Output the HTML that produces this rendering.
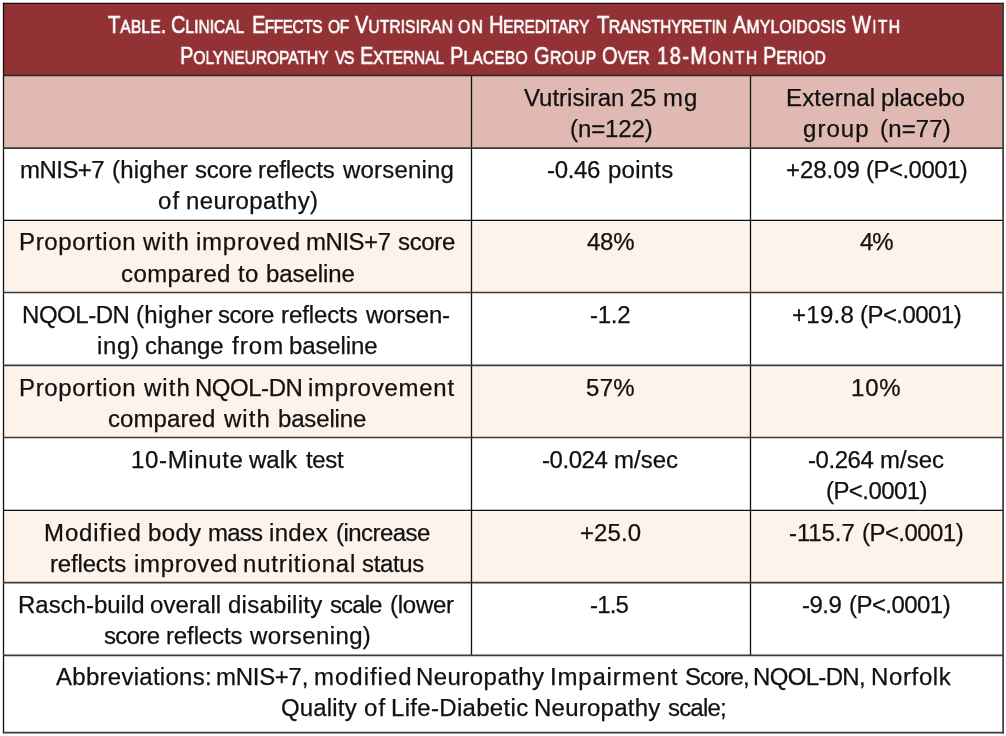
<!DOCTYPE html>
<html><head><meta charset="utf-8"><title>Table</title>
<style>
html,body{margin:0;padding:0;background:#fff;}
body{width:1006px;height:736px;position:relative;overflow:hidden;}
.bg{position:absolute;}
.b,.t{position:absolute;transform-origin:0 0;will-change:transform;}
.b{font-family:'Liberation Sans',sans-serif;font-size:23px;font-weight:normal;line-height:30px;white-space:nowrap;color:#111;-webkit-text-stroke:0.25px #111;}
.t{font-family:'Liberation Sans',sans-serif;font-size:24px;font-weight:normal;line-height:30px;white-space:nowrap;color:#fff;-webkit-text-stroke:0.65px #fff;}
.s{font-size:0.78em;}
svg{position:absolute;left:0;top:0;}
</style></head><body>
<div class="bg" style="left:3px;top:3px;width:1000px;height:73px;background:#923235"></div>
<div class="bg" style="left:3px;top:75px;width:1000px;height:74px;background:#e0bab2"></div>
<div class="bg" style="left:3px;top:220px;width:1000px;height:73px;background:#fdf3eb"></div>
<div class="bg" style="left:3px;top:365px;width:1000px;height:73px;background:#fdf3eb"></div>
<div class="bg" style="left:3px;top:510px;width:1000px;height:73px;background:#fdf3eb"></div>
<div class="t" style="left:107.50px;top:9.70px;letter-spacing:0.162px;transform:scaleX(0.8332)">T<span class="s">ABLE</span>.</div>
<div class="t" style="left:170.77px;top:9.70px;letter-spacing:-0.015px;transform:scaleX(0.8332)">C<span class="s">LINICAL</span></div>
<div class="t" style="left:251.53px;top:9.70px;letter-spacing:-0.691px;transform:scaleX(0.8332)">E<span class="s">FFECTS</span></div>
<div class="t" style="left:327.77px;top:9.70px;letter-spacing:-0.477px;transform:scaleX(0.8332)"><span class="s">OF</span></div>
<div class="t" style="left:355.40px;top:9.70px;letter-spacing:0.091px;transform:scaleX(0.8332)">V<span class="s">UTRISIRAN</span></div>
<div class="t" style="left:457.84px;top:9.70px;letter-spacing:1.800px;transform:scaleX(0.8332)"><span class="s">ON</span></div>
<div class="t" style="left:488.73px;top:9.70px;letter-spacing:-0.238px;transform:scaleX(0.8332)">H<span class="s">EREDITARY</span></div>
<div class="t" style="left:596.70px;top:9.70px;letter-spacing:-0.368px;transform:scaleX(0.8332)">T<span class="s">RANSTHYRETIN</span></div>
<div class="t" style="left:732.60px;top:9.70px;letter-spacing:0.314px;transform:scaleX(0.8332)">A<span class="s">MYLOIDOSIS</span></div>
<div class="t" style="left:851.50px;top:9.70px;letter-spacing:1.603px;transform:scaleX(0.8332)">W<span class="s">ITH</span></div>
<div class="t" style="left:180.33px;top:40.90px;letter-spacing:-0.081px;transform:scaleX(0.8332)">P<span class="s">OLYNEUROPATHY</span></div>
<div class="t" style="left:335.40px;top:40.90px;letter-spacing:-1.800px;transform:scaleX(0.8332)"><span class="s">VS</span></div>
<div class="t" style="left:360.03px;top:40.90px;letter-spacing:-0.209px;transform:scaleX(0.8332)">E<span class="s">XTERNAL</span></div>
<div class="t" style="left:450.23px;top:40.90px;letter-spacing:0.189px;transform:scaleX(0.8332)">P<span class="s">LACEBO</span></div>
<div class="t" style="left:534.27px;top:40.90px;letter-spacing:0.463px;transform:scaleX(0.8332)">G<span class="s">ROUP</span></div>
<div class="t" style="left:602.07px;top:40.90px;letter-spacing:-0.051px;transform:scaleX(0.8332)">O<span class="s">VER</span></div>
<div class="t" style="left:656.86px;top:40.90px;letter-spacing:1.800px;transform:scaleX(0.8332)">18-M<span class="s">ONTH</span></div>
<div class="t" style="left:763.03px;top:40.90px;letter-spacing:0.018px;transform:scaleX(0.8332)">P<span class="s">ERIOD</span></div>
<div class="b" style="left:523.50px;top:82.80px;letter-spacing:-0.001px;transform:scaleX(1.0432)">Vutrisiran</div>
<div class="b" style="left:630.06px;top:82.80px;letter-spacing:-0.420px;transform:scaleX(1.0432)">25</div>
<div class="b" style="left:663.49px;top:82.80px;letter-spacing:1.000px;transform:scaleX(1.0432)">mg</div>
<div class="b" style="left:569.56px;top:113.90px;letter-spacing:-0.092px;transform:scaleX(1.0432)">(n=122)</div>
<div class="b" style="left:785.81px;top:82.80px;letter-spacing:0.150px;transform:scaleX(1.0432)">External</div>
<div class="b" style="left:880.96px;top:82.80px;letter-spacing:-0.051px;transform:scaleX(1.0432)">placebo</div>
<div class="b" style="left:802.84px;top:113.90px;letter-spacing:1.000px;transform:scaleX(1.0432)">group</div>
<div class="b" style="left:879.96px;top:113.90px;letter-spacing:0.151px;transform:scaleX(1.0432)">(n=77)</div>
<div class="b" style="left:20.06px;top:154.70px;letter-spacing:-0.507px;transform:scaleX(1.0432)">mNIS+7</div>
<div class="b" style="left:111.86px;top:154.70px;letter-spacing:0.164px;transform:scaleX(1.0432)">(higher</div>
<div class="b" style="left:194.96px;top:154.70px;letter-spacing:-0.296px;transform:scaleX(1.0432)">score</div>
<div class="b" style="left:258.26px;top:154.70px;letter-spacing:-0.076px;transform:scaleX(1.0432)">reflects</div>
<div class="b" style="left:343.00px;top:154.70px;letter-spacing:0.192px;transform:scaleX(1.0432)">worsening</div>
<div class="b" style="left:158.15px;top:186.20px;letter-spacing:1.000px;transform:scaleX(1.0432)">of</div>
<div class="b" style="left:185.76px;top:186.20px;letter-spacing:0.384px;transform:scaleX(1.0432)">neuropathy)</div>
<div class="b" style="left:546.76px;top:154.70px;letter-spacing:-0.337px;transform:scaleX(1.0432)">-0.46</div>
<div class="b" style="left:607.86px;top:154.70px;letter-spacing:0.231px;transform:scaleX(1.0432)">points</div>
<div class="b" style="left:785.56px;top:154.70px;letter-spacing:-0.035px;transform:scaleX(1.0432)">+28.09</div>
<div class="b" style="left:865.86px;top:154.70px;letter-spacing:-0.501px;transform:scaleX(1.0432)">(P&lt;.0001)</div>
<div class="b" style="left:18.91px;top:227.00px;letter-spacing:0.623px;transform:scaleX(1.0432)">Proportion</div>
<div class="b" style="left:143.47px;top:227.00px;letter-spacing:1.000px;transform:scaleX(1.0432)">with</div>
<div class="b" style="left:196.36px;top:227.00px;letter-spacing:0.742px;transform:scaleX(1.0432)">improved</div>
<div class="b" style="left:305.76px;top:227.00px;letter-spacing:-0.450px;transform:scaleX(1.0432)">mNIS+7</div>
<div class="b" style="left:397.96px;top:227.00px;letter-spacing:-0.344px;transform:scaleX(1.0432)">score</div>
<div class="b" style="left:120.56px;top:258.60px;letter-spacing:0.380px;transform:scaleX(1.0432)">compared</div>
<div class="b" style="left:237.70px;top:258.60px;letter-spacing:0.267px;transform:scaleX(1.0432)">to</div>
<div class="b" style="left:265.66px;top:258.60px;letter-spacing:-0.087px;transform:scaleX(1.0432)">baseline</div>
<div class="b" style="left:587.10px;top:227.00px;letter-spacing:-0.214px;transform:scaleX(1.0432)">48%</div>
<div class="b" style="left:860.01px;top:227.00px;letter-spacing:-1.000px;transform:scaleX(1.0432)">4%</div>
<div class="b" style="left:21.81px;top:299.80px;letter-spacing:-0.433px;transform:scaleX(1.0432)">NQOL-DN</div>
<div class="b" style="left:135.66px;top:299.80px;letter-spacing:0.308px;transform:scaleX(1.0432)">(higher</div>
<div class="b" style="left:218.46px;top:299.80px;letter-spacing:-0.584px;transform:scaleX(1.0432)">score</div>
<div class="b" style="left:281.26px;top:299.80px;letter-spacing:-0.090px;transform:scaleX(1.0432)">reflects</div>
<div class="b" style="left:366.30px;top:299.80px;letter-spacing:-0.208px;transform:scaleX(1.0432)">worsen-</div>
<div class="b" style="left:97.46px;top:331.40px;letter-spacing:0.621px;transform:scaleX(1.0432)">ing)</div>
<div class="b" style="left:145.06px;top:331.40px;letter-spacing:-0.019px;transform:scaleX(1.0432)">change</div>
<div class="b" style="left:231.81px;top:331.40px;letter-spacing:1.000px;transform:scaleX(1.0432)">from</div>
<div class="b" style="left:288.76px;top:331.40px;letter-spacing:-0.100px;transform:scaleX(1.0432)">baseline</div>
<div class="b" style="left:590.06px;top:299.80px;letter-spacing:-0.269px;transform:scaleX(1.0432)">-1.2</div>
<div class="b" style="left:791.66px;top:299.80px;letter-spacing:0.258px;transform:scaleX(1.0432)">+19.8</div>
<div class="b" style="left:859.66px;top:299.80px;letter-spacing:-0.525px;transform:scaleX(1.0432)">(P&lt;.0001)</div>
<div class="b" style="left:18.91px;top:372.60px;letter-spacing:0.623px;transform:scaleX(1.0432)">Proportion</div>
<div class="b" style="left:143.52px;top:372.60px;letter-spacing:1.000px;transform:scaleX(1.0432)">with</div>
<div class="b" style="left:195.41px;top:372.60px;letter-spacing:-0.449px;transform:scaleX(1.0432)">NQOL-DN</div>
<div class="b" style="left:308.46px;top:372.60px;letter-spacing:0.709px;transform:scaleX(1.0432)">improvement</div>
<div class="b" style="left:108.16px;top:404.00px;letter-spacing:0.079px;transform:scaleX(1.0432)">compared</div>
<div class="b" style="left:224.47px;top:404.00px;letter-spacing:1.000px;transform:scaleX(1.0432)">with</div>
<div class="b" style="left:278.46px;top:404.00px;letter-spacing:-0.155px;transform:scaleX(1.0432)">baseline</div>
<div class="b" style="left:585.96px;top:372.60px;letter-spacing:0.286px;transform:scaleX(1.0432)">57%</div>
<div class="b" style="left:851.01px;top:372.60px;letter-spacing:0.786px;transform:scaleX(1.0432)">10%</div>
<div class="b" style="left:130.71px;top:444.60px;letter-spacing:0.625px;transform:scaleX(1.0432)">10-Minute</div>
<div class="b" style="left:249.10px;top:444.60px;letter-spacing:0.035px;transform:scaleX(1.0432)">walk</div>
<div class="b" style="left:306.20px;top:444.60px;letter-spacing:-0.351px;transform:scaleX(1.0432)">test</div>
<div class="b" style="left:541.86px;top:444.60px;letter-spacing:-0.416px;transform:scaleX(1.0432)">-0.024</div>
<div class="b" style="left:614.46px;top:444.60px;letter-spacing:0.001px;transform:scaleX(1.0432)">m/sec</div>
<div class="b" style="left:807.76px;top:444.60px;letter-spacing:-0.416px;transform:scaleX(1.0432)">-0.264</div>
<div class="b" style="left:880.36px;top:444.60px;letter-spacing:0.001px;transform:scaleX(1.0432)">m/sec</div>
<div class="b" style="left:826.26px;top:476.00px;letter-spacing:-0.537px;transform:scaleX(1.0432)">(P&lt;.0001)</div>
<div class="b" style="left:43.61px;top:517.80px;letter-spacing:0.858px;transform:scaleX(1.0432)">Modified</div>
<div class="b" style="left:148.16px;top:517.80px;letter-spacing:0.345px;transform:scaleX(1.0432)">body</div>
<div class="b" style="left:208.26px;top:517.80px;letter-spacing:-0.732px;transform:scaleX(1.0432)">mass</div>
<div class="b" style="left:269.36px;top:517.80px;letter-spacing:0.303px;transform:scaleX(1.0432)">index</div>
<div class="b" style="left:335.86px;top:517.80px;letter-spacing:-0.518px;transform:scaleX(1.0432)">(increase</div>
<div class="b" style="left:49.66px;top:549.40px;letter-spacing:-0.158px;transform:scaleX(1.0432)">reflects</div>
<div class="b" style="left:133.66px;top:549.40px;letter-spacing:0.647px;transform:scaleX(1.0432)">improved</div>
<div class="b" style="left:243.36px;top:549.40px;letter-spacing:0.796px;transform:scaleX(1.0432)">nutritional</div>
<div class="b" style="left:362.36px;top:549.40px;letter-spacing:-0.325px;transform:scaleX(1.0432)">status</div>
<div class="b" style="left:579.66px;top:517.80px;letter-spacing:0.104px;transform:scaleX(1.0432)">+25.0</div>
<div class="b" style="left:789.26px;top:517.80px;letter-spacing:-0.092px;transform:scaleX(1.0432)">-115.7</div>
<div class="b" style="left:861.96px;top:517.80px;letter-spacing:-0.525px;transform:scaleX(1.0432)">(P&lt;.0001)</div>
<div class="b" style="left:18.11px;top:589.80px;letter-spacing:-0.010px;transform:scaleX(1.0432)">Rasch-build</div>
<div class="b" style="left:149.96px;top:589.80px;letter-spacing:0.071px;transform:scaleX(1.0432)">overall</div>
<div class="b" style="left:228.16px;top:589.80px;letter-spacing:0.228px;transform:scaleX(1.0432)">disability</div>
<div class="b" style="left:330.36px;top:589.80px;letter-spacing:-0.850px;transform:scaleX(1.0432)">scale</div>
<div class="b" style="left:390.36px;top:589.80px;letter-spacing:-0.246px;transform:scaleX(1.0432)">(lower</div>
<div class="b" style="left:104.16px;top:621.30px;letter-spacing:-0.632px;transform:scaleX(1.0432)">score</div>
<div class="b" style="left:166.36px;top:621.30px;letter-spacing:-0.117px;transform:scaleX(1.0432)">reflects</div>
<div class="b" style="left:250.10px;top:621.30px;letter-spacing:0.373px;transform:scaleX(1.0432)">worsening)</div>
<div class="b" style="left:590.36px;top:589.80px;letter-spacing:-0.781px;transform:scaleX(1.0432)">-1.5</div>
<div class="b" style="left:802.46px;top:589.80px;letter-spacing:-0.493px;transform:scaleX(1.0432)">-9.9</div>
<div class="b" style="left:849.06px;top:589.80px;letter-spacing:-0.525px;transform:scaleX(1.0432)">(P&lt;.0001)</div>
<div class="b" style="left:56.30px;top:661.80px;letter-spacing:0.263px;transform:scaleX(1.0432)">Abbreviations:</div>
<div class="b" style="left:216.46px;top:661.80px;letter-spacing:-0.266px;transform:scaleX(1.0432)">mNIS+7,</div>
<div class="b" style="left:313.66px;top:661.80px;letter-spacing:0.948px;transform:scaleX(1.0432)">modified</div>
<div class="b" style="left:416.21px;top:661.80px;letter-spacing:0.430px;transform:scaleX(1.0432)">Neuropathy</div>
<div class="b" style="left:550.31px;top:661.80px;letter-spacing:0.779px;transform:scaleX(1.0432)">Impairment</div>
<div class="b" style="left:684.66px;top:661.80px;letter-spacing:-0.895px;transform:scaleX(1.0432)">Score,</div>
<div class="b" style="left:752.91px;top:661.80px;letter-spacing:-0.632px;transform:scaleX(1.0432)">NQOL-DN,</div>
<div class="b" style="left:870.91px;top:661.80px;letter-spacing:0.612px;transform:scaleX(1.0432)">Norfolk</div>
<div class="b" style="left:280.56px;top:693.30px;letter-spacing:0.164px;transform:scaleX(1.0432)">Quality</div>
<div class="b" style="left:364.05px;top:693.30px;letter-spacing:1.000px;transform:scaleX(1.0432)">of</div>
<div class="b" style="left:391.21px;top:693.30px;letter-spacing:0.303px;transform:scaleX(1.0432)">Life-Diabetic</div>
<div class="b" style="left:534.21px;top:693.30px;letter-spacing:0.239px;transform:scaleX(1.0432)">Neuropathy</div>
<div class="b" style="left:668.16px;top:693.30px;letter-spacing:-0.779px;transform:scaleX(1.0432)">scale;</div>
<svg width="1006" height="736" viewBox="0 0 1006 736">
<g stroke="#111" stroke-width="1.3" fill="none">
<line x1="2.8" y1="3.4" x2="1003.8" y2="3.4"/>
<line x1="3.5" y1="2.8" x2="3.5" y2="733.2"/>
<line x1="471.5" y1="75" x2="471.5" y2="655"/>
<line x1="750.5" y1="75" x2="750.5" y2="655"/>
<line x1="3" y1="220.4" x2="1003" y2="220.4"/>
<line x1="3" y1="510.4" x2="1003" y2="510.4"/>
</g><g stroke="#2a2624" stroke-width="1.5" fill="none">
<line x1="3" y1="75.4" x2="1003" y2="75.4"/>
</g><g stroke="#3d3a38" stroke-width="1.7" fill="none">
<line x1="3" y1="148.2" x2="1003" y2="148.2"/>
<line x1="3" y1="292.5" x2="1003" y2="292.5"/>
<line x1="3" y1="365.4" x2="1003" y2="365.4"/>
<line x1="3" y1="437.5" x2="1003" y2="437.5"/>
<line x1="3" y1="582.7" x2="1003" y2="582.7"/>
<line x1="3" y1="655.4" x2="1003" y2="655.4"/>
<line x1="1003.1" y1="2.8" x2="1003.1" y2="733.4"/>
<line x1="2.8" y1="732.6" x2="1003.9" y2="732.6"/>
</g></svg>
</body></html>
